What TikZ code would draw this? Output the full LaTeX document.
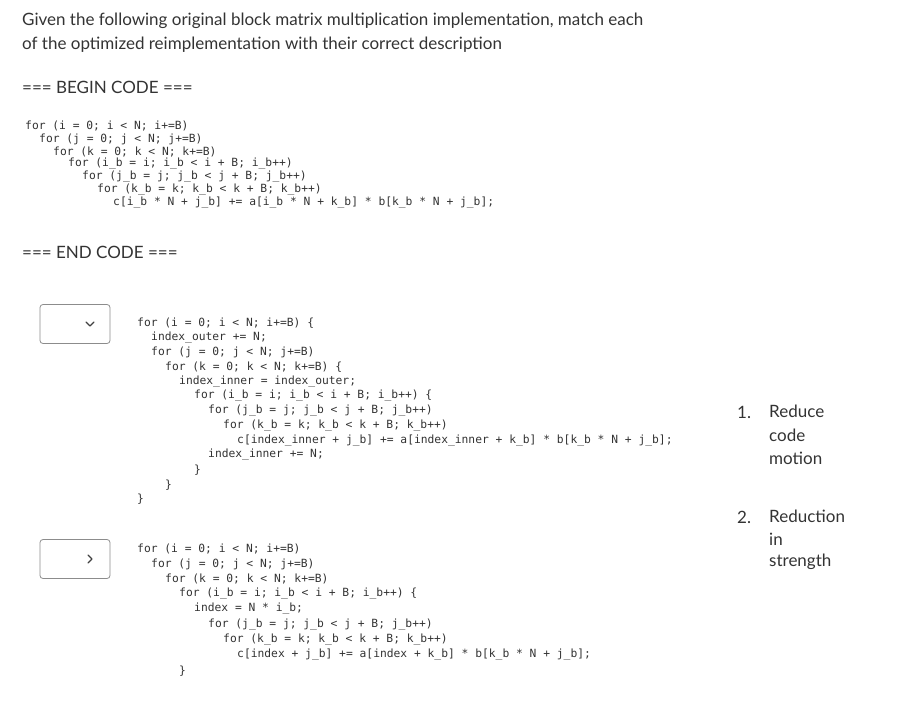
\documentclass[tikz,border=0pt]{standalone}
\usepackage{fontspec}
\setmainfont{Lato}
\setmonofont{DejaVu Sans Mono}
\begin{document}
\begin{tikzpicture}[x=1pt,y=-1pt,
  txt/.style={anchor=west,inner sep=0pt,text=black!80,font=\fontsize{17}{20}\selectfont},
  cd/.style={anchor=west,inner sep=0pt,text=black!80,font=\ttfamily\fontsize{11.3}{13}\selectfont},
  ddbox/.style={draw=black!45,rounded corners=3pt,line width=0.8pt,minimum width=70pt,minimum height=39pt,inner sep=0pt},
  chev/.style={draw=black!75,line width=1.2pt,line cap=round,line join=round}]
\useasboundingbox (0,0) rectangle (915,701);
\node[txt] (t1) at (22,21) {Given the following original block matrix multiplication implementation, match each};
\node[txt] (t2) at (22,45) {of the optimized reimplementation with their correct description};
\node[txt] (bc) at (22,87) {=== BEGIN CODE ===};
\node[cd] (a1) at (25,126) {for (i = 0; i < N; i+=B)};
\node[cd] (a2) at (39,139) {for (j = 0; j < N; j+=B)};
\node[cd] (a3) at (53,152) {for (k = 0; k < N; k+=B)};
\node[cd] (a4) at (68,164) {for (i\_b = i; i\_b < i + B; i\_b++)};
\node[cd] (a5) at (82,177) {for (j\_b = j; j\_b < j + B; j\_b++)};
\node[cd] (a6) at (97,190) {for (k\_b = k; k\_b < k + B; k\_b++)};
\node[cd] (a7) at (113,203) {c[i\_b * N + j\_b] += a[i\_b * N + k\_b] * b[k\_b * N + j\_b];};
\node[txt] (ec) at (22,252) {=== END CODE ===};
% dropdown 1
\node[ddbox] (d1) at (75,324) {};
\draw[chev] (86,322) -- (90,326) -- (94,322);
\node[cd] (b1) at (137,323) {for (i = 0; i < N; i+=B) \{};
\node[cd] (b2) at (151,338) {index\_outer += N;};
\node[cd] (b3) at (151,352) {for (j = 0; j < N; j+=B)};
\node[cd] (b4) at (165,367) {for (k = 0; k < N; k+=B) \{};
\node[cd] (b5) at (179,382) {index\_inner = index\_outer;};
\node[cd] (b6) at (194,396) {for (i\_b = i; i\_b < i + B; i\_b++) \{};
\node[cd] (b7) at (208,411) {for (j\_b = j; j\_b < j + B; j\_b++)};
\node[cd] (b8) at (223,426) {for (k\_b = k; k\_b < k + B; k\_b++)};
\node[cd] (b9) at (237,441) {c[index\_inner + j\_b] += a[index\_inner + k\_b] * b[k\_b * N + j\_b];};
\node[cd] (b10) at (208,455) {index\_inner += N;};
\node[cd] (b11) at (194,470) {\}};
\node[cd] (b12) at (165,485) {\}};
\node[cd] (b13) at (137,499) {\}};
% dropdown 2
\node[ddbox] (d2) at (75,559) {};
\draw[chev] (88,555) -- (92,559) -- (88,563);
\node[cd] (c1) at (137,549) {for (i = 0; i < N; i+=B)};
\node[cd] (c2) at (151,564) {for (j = 0; j < N; j+=B)};
\node[cd] (c3) at (165,579) {for (k = 0; k < N; k+=B)};
\node[cd] (c4) at (179,594) {for (i\_b = i; i\_b < i + B; i\_b++) \{};
\node[cd] (c5) at (194,609) {index = N * i\_b;};
\node[cd] (c6) at (208,625) {for (j\_b = j; j\_b < j + B; j\_b++)};
\node[cd] (c7) at (223,640) {for (k\_b = k; k\_b < k + B; k\_b++)};
\node[cd] (c8) at (237,655) {c[index + j\_b] += a[index + k\_b] * b[k\_b * N + j\_b];};
\node[cd] (c9) at (179,671) {\}};
% answers
\node[txt] (n1) at (737,412) {1.};
\node[txt] (r1) at (769,411) {Reduce};
\node[txt] (r2) at (769,435) {code};
\node[txt] (r3) at (769,458) {motion};
\node[txt] (n2) at (737,517) {2.};
\node[txt] (s1) at (769,516) {Reduction};
\node[txt] (s2) at (769,539) {in};
\node[txt] (s3) at (769,562) {strength};
\end{tikzpicture}
\end{document}
